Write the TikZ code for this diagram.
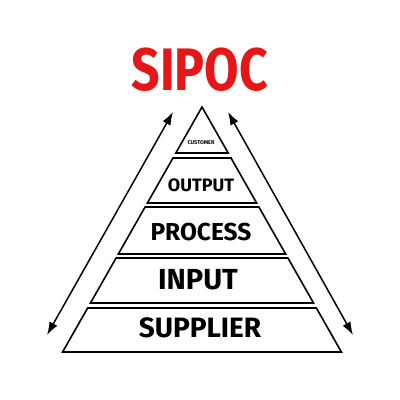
\documentclass[tikz,border=0pt]{standalone}
\usepackage{fontspec}
\setmainfont{Fira Sans}
\usepackage{tikz}
\usetikzlibrary{arrows.meta}
\usetikzlibrary{positioning}

\definecolor{sipocred}{RGB}{228,22,24}

\tikzset{
  band/.style={draw=black, line width=1.6pt, line join=miter, fill=white},
  lbl/.style={font=\bfseries, inner sep=0pt},
  dblarr/.style={line width=1.5pt, {Latex[length=13pt,width=9pt]}-{Latex[length=13pt,width=9pt]}}
}

\begin{document}
\begin{tikzpicture}[x=1pt,y=-1pt]
\useasboundingbox (0,0) rectangle (400,400);

% title
\node[font=\fontsize{50}{50}\selectfont\bfseries, text=sipocred, inner sep=0pt] (title) at (200,70) {\scalebox{1}[1.2]{SIPOC}};

% pyramid: top y / bottom y of each slice
\def\k{0.569}
\foreach \t/\b in {107/153, 158/203, 207/254, 258/303, 308/352}{
  \draw[band] ({202-\k*(\t-107)},\t) -- ({202+\k*(\t-107)},\t)
    -- ({202+\k*(\b-107)},\b) -- ({202-\k*(\b-107)},\b) -- cycle;
}

% labels
\node[lbl, font=\fontsize{5.5}{5.5}\selectfont\bfseries] (cust) at (201,143) {CUSTOMER};
\node[lbl, font=\fontsize{18}{18}\selectfont\bfseries] (out) at (201,185) {OUTPUT};
\node[lbl, font=\fontsize{24.5}{24.5}\selectfont\bfseries] (proc) at (201,232) {PROCESS};
\node[lbl, font=\fontsize{29}{29}\selectfont\bfseries] (inp) at (198,280) {INPUT};
\node[lbl, font=\fontsize{28}{28}\selectfont\bfseries] (supp) at (200,328) {SUPPLIER};

% side arrows
\coordinate (lt) at (173,112);
\coordinate (lb) at (47,335);
\coordinate (rt) at (228,112);
\coordinate (rb) at (353,335);
\draw[dblarr] (lt) -- (lb);
\draw[dblarr] (rt) -- (rb);
\end{tikzpicture}
\end{document}
